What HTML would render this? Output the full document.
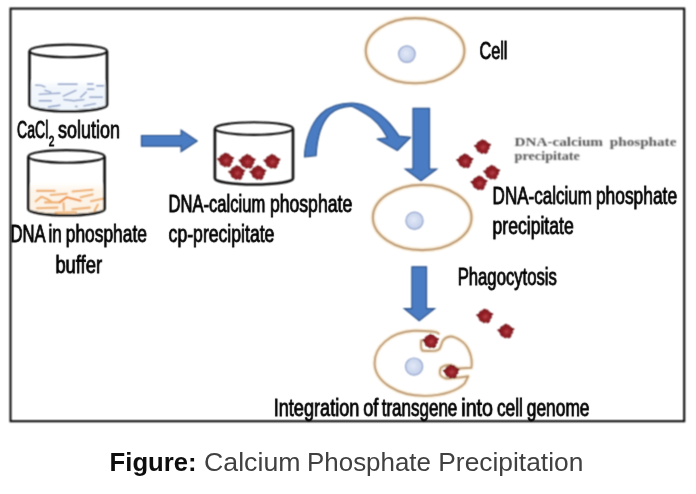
<!DOCTYPE html>
<html><head><meta charset="utf-8">
<style>
html,body{margin:0;padding:0;background:#fff;}
body{width:696px;height:494px;overflow:hidden;}
svg{display:block;}
.t{font-family:"Liberation Sans",sans-serif;fill:#000;}
</style></head>
<body>
<svg width="696" height="494" viewBox="0 0 696 494">
<defs>
  <filter id="soft3" x="-5%" y="-20%" width="110%" height="140%"><feGaussianBlur stdDeviation="0.2"/></filter>
  <filter id="soft2" x="-5%" y="-5%" width="110%" height="110%"><feConvolveMatrix order="3" kernelMatrix="0 1 0 1 12 1 0 1 0" divisor="16" edgeMode="none" preserveAlpha="false"/></filter>
  <filter id="soft" x="-5%" y="-5%" width="110%" height="110%"><feConvolveMatrix order="3" kernelMatrix="1 2 1 2 4 2 1 2 1" divisor="16" edgeMode="none" preserveAlpha="false"/></filter>
  <radialGradient id="bg" cx="0.55" cy="0.55" r="0.6">
    <stop offset="0" stop-color="#b8424a"/>
    <stop offset="0.45" stop-color="#952027"/>
    <stop offset="1" stop-color="#7c171d"/>
  </radialGradient>
  <linearGradient id="lq1" x1="0" y1="0" x2="0" y2="1"><stop offset="0" stop-color="#f3f8fd" stop-opacity="0"/><stop offset="0.25" stop-color="#f1f6fc"/><stop offset="1" stop-color="#eef4fb"/></linearGradient>
  <linearGradient id="lq2" x1="0" y1="0" x2="0" y2="1"><stop offset="0" stop-color="#fef6ea" stop-opacity="0"/><stop offset="0.25" stop-color="#fdf5ea"/><stop offset="1" stop-color="#fcf1e2"/></linearGradient>
  <radialGradient id="ng" cx="0.45" cy="0.45" r="0.6">
    <stop offset="0" stop-color="#e2e9f7"/>
    <stop offset="1" stop-color="#bfcce9"/>
  </radialGradient>
  <g id="blob" transform="scale(1.04)">
    <path d="M-4.6,-2.6 L-8.3,-1.8 L-8.1,-0.5 L-4.6,0.6 Z M4.4,-3.6 L8.1,-2.8 L7.9,-1.5 L4.8,0.2 Z M-1.2,-5.2 L0,-7.8 L1.8,-5.2 Z" fill="#741519"/>
    <path d="M0.78,-5.94 A2.1,2.1 0 0 1 3.90,-4.24 A2.1,2.1 0 0 1 5.60,-0.93 A2.1,2.1 0 0 1 4.46,2.84 A2.1,2.1 0 0 1 1.03,5.30 A2.1,2.1 0 0 1 -2.69,4.57 A2.1,2.1 0 0 1 -5.24,1.90 A2.1,2.1 0 0 1 -5.13,-1.96 A2.1,2.1 0 0 1 -2.71,-4.94 A2.1,2.1 0 0 1 0.78,-5.94Z" fill="url(#bg)" stroke="#6e161a" stroke-width="0.7"/>
    <path d="M-2.5,-2 q1.2,-1 2.4,0 M0.8,2.2 q1.2,-0.8 2.2,0.2 M-3,1.5 q0.8,1 1.8,0.6" stroke="#7a181d" stroke-width="0.6" fill="none" opacity="0.8"/>
  </g>
</defs>

<g filter="url(#soft)">
<!-- frame -->
<rect x="10.5" y="8.6" width="673.7" height="412.6" fill="none" stroke="#0d0d0d" stroke-width="2.1"/>

<!-- Beaker 1 -->
<path d="M29.5,80 L29.5,105 A38.75,6.3 0 0 0 107,105 L107,80 Z" fill="url(#lq1)"/>
<g stroke="#8b9dc6" stroke-width="1.4" fill="none" stroke-linecap="round" stroke-linejoin="round">
  <path d="M35.7,85.2 L41,85.4 L44.9,86.9"/>
  <path d="M58.2,84.3 L77.1,84.3"/>
  <path d="M87.5,84 L93.2,84"/>
  <path d="M96.7,85.8 L103.6,85.8"/>
  <path d="M44.9,90.4 L50.7,92.1"/>
  <path d="M39.2,94.4 L50,93.6 L59.9,93.2"/>
  <path d="M63.3,96.1 L76,90.4"/>
  <path d="M87.5,89.2 L93.8,89.2"/>
  <path d="M86.3,92.1 L80.6,97.3"/>
  <path d="M89.8,97.3 L102.4,97.3"/>
  <path d="M39.2,100.7 L51.3,100.7"/>
  <path d="M63.9,99.6 L73.7,100.7 L84,99.6"/>
  <path d="M48.4,107 L59.9,105.3"/>
  <path d="M75.5,106.5 L77,106.5"/>
  <path d="M84,105.9 L95.5,103.6"/>
</g>
<g fill="none" stroke="#111" stroke-width="2.6">
  <ellipse cx="68.25" cy="50.9" rx="38.75" ry="6.3" stroke-width="2.1"/>
  <path d="M29.5,50.9 L29.5,105 A38.75,6.3 0 0 0 107,105 L107,50.9"/>
</g>

<!-- Beaker 2 -->
<path d="M28.3,183 L28.3,209 A38.15,6.3 0 0 0 104.6,209 L104.6,183 Z" fill="url(#lq2)"/>
<g stroke="#eeb070" stroke-width="2.1" fill="none" stroke-linecap="round" stroke-linejoin="round">
  <path d="M36.9,190.9 L54.7,190.9"/>
  <path d="M72.5,191.5 L92.6,189.8"/>
  <path d="M50.7,195 L66.8,193.8"/>
  <path d="M35.6,201.3 L41.5,196.7 L47.2,199 L51.8,201.8"/>
  <path d="M45,202.4 L59.9,202.4"/>
  <path d="M80.6,197.2 L92.6,194.4"/>
  <path d="M90.9,201.3 L103.6,198.4"/>
  <path d="M36.9,208.2 L57.6,207.6"/>
  <path d="M63.5,203 L63.9,209.9"/>
  <path d="M72.5,209.3 L89.8,207.6"/>
  <path d="M94.4,211 L97.8,204.7"/>
  <path d="M55.3,212.8 L76,212.3"/>
</g>
<path d="M59.9,202 L66.8,197.2 L80.6,200.7" stroke="#ee9444" stroke-width="2.2" fill="none" stroke-linecap="round" stroke-linejoin="round"/>
<g fill="none" stroke="#111" stroke-width="2.6">
  <ellipse cx="66.45" cy="156.4" rx="38.15" ry="6.3" stroke-width="2.1"/>
  <path d="M28.3,156.4 L28.3,209 A38.15,6.3 0 0 0 104.6,209 L104.6,156.4"/>
</g>

<!-- Beaker 3 -->
<g fill="none" stroke="#111" stroke-width="2.6">
  <ellipse cx="253.95" cy="128.6" rx="39.05" ry="6.3" stroke-width="2.1"/>
  <path d="M214.9,128.6 L214.9,178.5 A39.05,6 0 0 0 293,178.5 L293,128.6"/>
</g>
<use href="#blob" x="225.7" y="160.3"/>
<use href="#blob" x="247.2" y="161.7"/>
<use href="#blob" x="272" y="161.7"/>
<use href="#blob" x="236.9" y="172.9"/>
<use href="#blob" x="258" y="172.9"/>

<!-- horizontal arrow -->
<path d="M141.5,135.5 L181.1,135.5 L181.1,130.1 L197.2,140.9 L181.1,151.6 L181.1,146.2 L141.5,146.2 Z" fill="#4a7cc2" stroke="#2a5089" stroke-width="1.2"/>

<!-- curved arrow -->
<path d="M304.5,157 C305,140 311,124 321,114 C329,106.5 341,103.2 352,103.2 C366,103.4 380,112 390,124 C394,129 397,133 399,136.1 L410.6,137.3 L397.3,150.5 L377.1,139 L387.5,137.8 C382,128 375,119 366,114 C361,111 356,108 352,106.2 C344,106.5 336,108.5 330,114 C322,122 317,136 316.1,155.6 Z" fill="#4a7cc2" stroke="#2a5089" stroke-width="1.2" stroke-linejoin="round"/>

<!-- vertical arrows -->
<path d="M413,108.4 L429.5,108.4 L429.5,169 L436.7,169 L421,180.8 L405.3,169 L413,169 Z" fill="#4a7cc2" stroke="#2a5089" stroke-width="1.2"/>
<path d="M411.9,266.8 L426.5,266.8 L426.5,308.6 L434.6,308.6 L419.2,320.8 L404.3,308.6 L411.9,308.6 Z" fill="#4a7cc2" stroke="#2a5089" stroke-width="1.2"/>

<!-- cells -->
<g fill="none" stroke="#fbf0dc" stroke-width="5">
<ellipse cx="415.1" cy="50.7" rx="49.3" ry="32.6"/>
<ellipse cx="422.2" cy="217.5" rx="49.3" ry="32.6"/>
</g>
<ellipse cx="415.1" cy="50.7" rx="49.3" ry="32.6" fill="none" stroke="#bb976f" stroke-width="2.1"/>
<circle cx="406.9" cy="54.1" r="8.3" fill="url(#ng)" stroke="#93a5cb" stroke-width="1.2"/>
<ellipse cx="422.2" cy="217.5" rx="49.3" ry="32.6" fill="none" stroke="#bb976f" stroke-width="2.1"/>
<circle cx="414.5" cy="220.7" r="8.6" fill="url(#ng)" stroke="#93a5cb" stroke-width="1.2"/>

<!-- bottom cell -->
<path d="M439,334.6 C438.5,332.5 436,331.8 432,331.5 C426,331 420,330.6 414,330.8 C390,332 374.6,347 374.6,363 C374.6,382 398,396 425,395.9 C444,395.8 458,390 464.7,383.3 L468.3,376.3 C464,377 459,377.6 455,377.9 C450,378.5 446.5,378.6 445.2,378.3 C441.5,377 439.6,374.5 439.8,372.4 C439.9,369.5 440.5,368 441.6,367.3 C444,365.3 447,364.8 450.1,365.1 C453,365.5 456,367.5 458.6,368.5 L471.4,367.8 C473,358 469,346 461,340.8 C457,338 453,336.2 450.1,336.5 C447,337 444,339 442.8,340.8 C441.5,343 441,347 439.2,349.3 C437,351 434,351.2 431.9,351.1 C428,351 424,351 422.2,350.5 C420.5,348 420.8,342 421.5,339.6" fill="none" stroke="#fbf0dc" stroke-width="4.5" stroke-linejoin="round"/>
<path d="M439,334.6 C438.5,332.5 436,331.8 432,331.5 C426,331 420,330.6 414,330.8 C390,332 374.6,347 374.6,363 C374.6,382 398,396 425,395.9 C444,395.8 458,390 464.7,383.3 L468.3,376.3 C464,377 459,377.6 455,377.9 C450,378.5 446.5,378.6 445.2,378.3 C441.5,377 439.6,374.5 439.8,372.4 C439.9,369.5 440.5,368 441.6,367.3 C444,365.3 447,364.8 450.1,365.1 C453,365.5 456,367.5 458.6,368.5 L471.4,367.8 C473,358 469,346 461,340.8 C457,338 453,336.2 450.1,336.5 C447,337 444,339 442.8,340.8 C441.5,343 441,347 439.2,349.3 C437,351 434,351.2 431.9,351.1 C428,351 424,351 422.2,350.5 C420.5,348 420.8,342 421.5,339.6" fill="none" stroke="#bb976f" stroke-width="1.9" stroke-linejoin="round"/>
<circle cx="414.1" cy="366.6" r="8.6" fill="url(#ng)" stroke="#93a5cb" stroke-width="1.2"/>
<use href="#blob" x="430.7" y="341.4"/>
<use href="#blob" x="451.3" y="371.8"/>

<!-- free blobs -->
<use href="#blob" x="482.6" y="147"/>
<use href="#blob" x="464.9" y="161.2"/>
<use href="#blob" x="491.8" y="172.6"/>
<use href="#blob" x="479.1" y="183.2"/>
<use href="#blob" x="484.8" y="316.3"/>
<use href="#blob" x="506" y="331.4"/>

</g>
<g filter="url(#soft2)">
<!-- texts -->
<g class="t" stroke="#000" stroke-width="0.85" font-size="23.5">
  <text x="17.1" y="138" textLength="31.3" lengthAdjust="spacingAndGlyphs">CaCl</text>
  <text x="48.8" y="146" font-size="14.5" textLength="5.6" lengthAdjust="spacingAndGlyphs">2</text>
  <text x="58.1" y="138" textLength="61.8" lengthAdjust="spacingAndGlyphs">solution</text>
  <text x="10.6" y="241.9" textLength="35.1" lengthAdjust="spacingAndGlyphs">DNA</text>
  <text x="48.5" y="241.9" textLength="13.3" lengthAdjust="spacingAndGlyphs">in</text>
  <text x="65.8" y="241.9" textLength="81.1" lengthAdjust="spacingAndGlyphs">phosphate</text>
  <text x="55.4" y="273.1" textLength="46.6" lengthAdjust="spacingAndGlyphs">buffer</text>
  <text x="168.6" y="212.3" textLength="96.6" lengthAdjust="spacingAndGlyphs">DNA-calcium</text>
  <text x="269.9" y="212.3" textLength="82.3" lengthAdjust="spacingAndGlyphs">phosphate</text>
  <text x="168.6" y="242" textLength="105.8" lengthAdjust="spacingAndGlyphs">cp-precipitate</text>
  <text x="479.4" y="59.2" textLength="28.1" lengthAdjust="spacingAndGlyphs">Cell</text>
  <text x="492.6" y="203.8" textLength="99.3" lengthAdjust="spacingAndGlyphs">DNA-calcium</text>
  <text x="595.9" y="203.8" textLength="81.2" lengthAdjust="spacingAndGlyphs">phosphate</text>
  <text x="492.6" y="233.6" textLength="81.1" lengthAdjust="spacingAndGlyphs">precipitate</text>
  <text x="457.7" y="285" textLength="99.2" lengthAdjust="spacingAndGlyphs">Phagocytosis</text>
  <text x="273.7" y="416" textLength="85.7" lengthAdjust="spacingAndGlyphs">Integration</text>
  <text x="363.2" y="416" textLength="15.2" lengthAdjust="spacingAndGlyphs">of</text>
  <text x="381.7" y="416" textLength="75.6" lengthAdjust="spacingAndGlyphs">transgene</text>
  <text x="461.3" y="416" textLength="31.7" lengthAdjust="spacingAndGlyphs">into</text>
  <text x="496.9" y="416" textLength="26.0" lengthAdjust="spacingAndGlyphs">cell</text>
  <text x="526.8" y="416" textLength="62.7" lengthAdjust="spacingAndGlyphs">genome</text>
</g>
<g font-family="Liberation Serif, serif" font-weight="bold" fill="#555" font-size="12.3" filter="url(#soft)">
  <text x="514.6" y="146.3" textLength="88.4" lengthAdjust="spacingAndGlyphs">DNA-calcium</text>
  <text x="609.8" y="146.3" textLength="66.6" lengthAdjust="spacingAndGlyphs">phosphate</text>
  <text x="514.6" y="159.8" textLength="65.3" lengthAdjust="spacingAndGlyphs">precipitate</text>
</g>

</g>
<!-- caption -->
<g font-family="Liberation Sans, sans-serif" font-size="25.5" fill="#404040" filter="url(#soft3)">
  <text x="109.6" y="470.5" font-weight="bold" fill="#111" textLength="87" lengthAdjust="spacingAndGlyphs">Figure:</text>
  <text x="204" y="470.5" textLength="96.5" lengthAdjust="spacingAndGlyphs">Calcium</text>
  <text x="307" y="470.5" textLength="124" lengthAdjust="spacingAndGlyphs">Phosphate</text>
  <text x="438.3" y="470.5" textLength="145" lengthAdjust="spacingAndGlyphs">Precipitation</text>
</g>
</svg>
</body></html>
